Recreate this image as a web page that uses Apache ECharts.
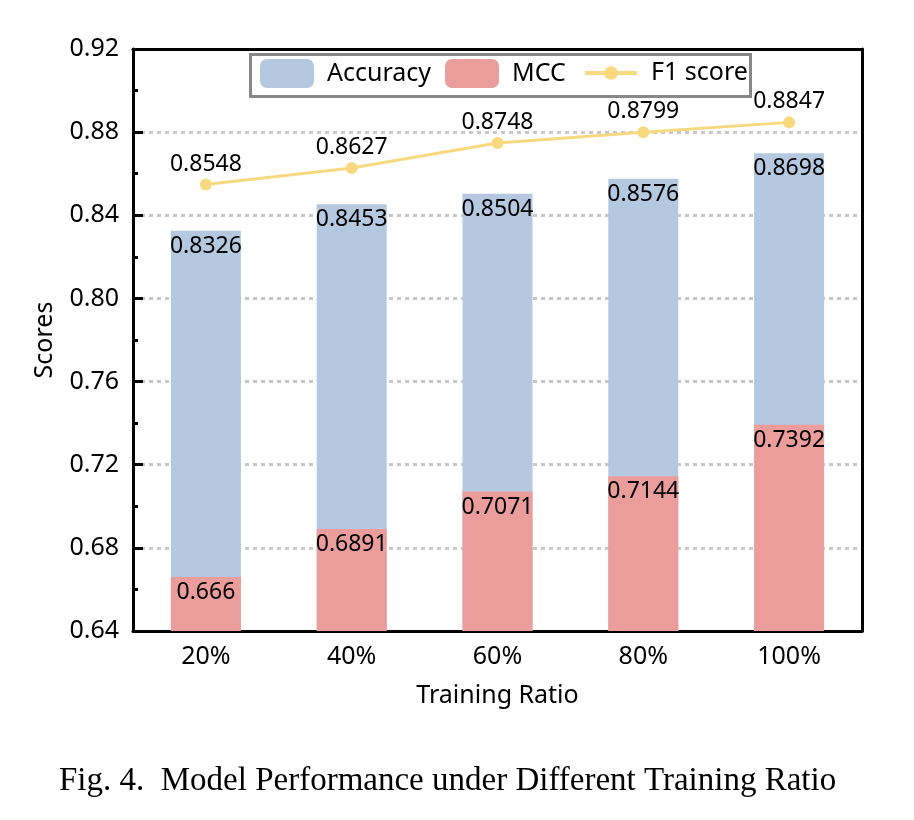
<!DOCTYPE html>
<html><head><meta charset="utf-8">
<script src="https://cdn.jsdelivr.net/npm/echarts@6/dist/echarts.min.js"></script>
<style>html,body{margin:0;padding:0;background:#fff}#c{width:914px;height:820px}</style>
</head><body><div id="c"></div>
<script>
const categories = ['20%', '40%', '60%', '80%', '100%'];
const accuracy = [0.8326, 0.8453, 0.8504, 0.8576, 0.8698];
const mcc = [0.666, 0.6891, 0.7071, 0.7144, 0.7392];
const f1 = [0.8548, 0.8627, 0.8748, 0.8799, 0.8847];
const yTicks = { min: 0.64, max: 0.92, interval: 0.04 };

const FONT = '"Noto Sans", "Open Sans", sans-serif';
const chart = echarts.init(document.getElementById('c'), null, { renderer: 'canvas' });
chart.setOption({
  backgroundColor: '#fff',
  animation: false,
  textStyle: { fontFamily: FONT },
  title: {
    text: 'Fig. 4.  Model Performance under Different Training Ratio',
    left: 54, top: 760,
    textStyle: { fontFamily: '"Liberation Serif", "DejaVu Serif", serif', fontSize: 33, fontWeight: 'normal', color: '#000' }
  },
  graphic: [{
    type: 'rect', left: 249, top: 53, z: 5,
    shape: { width: 500, height: 42 },
    style: { fill: '#fff', stroke: '#888', lineWidth: 3 }
  }],
  grid: { left: 133, right: 52, top: 49, bottom: 189, show: false },
  legend: [
    {
      left: 260, top: 59, z: 6,
      itemWidth: 54, itemHeight: 29, itemGap: 14,
      padding: 0,
      textStyle: { fontSize: 25, color: '#000', fontFamily: FONT, padding: [0, 0, 0, 8] },
      data: ['Accuracy', 'MCC']
    },
    {
      left: 583, top: 60, z: 6,
      itemWidth: 52, itemHeight: 17,
      padding: 0,
      lineStyle: { width: 4 },
      textStyle: { fontSize: 25, color: '#000', fontFamily: FONT, padding: [0, 0, 0, 9], lineHeight: 26 },
      data: ['F1 score']
    }
  ],
  xAxis: [{
    type: 'category', data: categories,
    name: 'Training Ratio', nameLocation: 'middle', nameGap: 52,
    nameTextStyle: { fontSize: 25, color: '#000', fontFamily: FONT },
    axisLine: { lineStyle: { color: '#000', width: 3 } },
    axisTick: { inside: true, alignWithLabel: true, length: 10, lineStyle: { width: 3, color: '#000' } },
    axisLabel: { fontSize: 25, color: '#000', margin: 13, fontFamily: FONT }
  }, {
    type: 'category', data: categories, position: 'top',
    axisLine: { show: true, lineStyle: { color: '#000', width: 3 } },
    axisTick: { show: false }, axisLabel: { show: false }, splitLine: { show: false }
  }],
  yAxis: [{
    type: 'value', min: yTicks.min, max: yTicks.max, interval: yTicks.interval,
    name: 'Scores', nameLocation: 'middle', nameGap: 76,
    nameTextStyle: { fontSize: 25, color: '#000', fontFamily: FONT },
    axisLine: { show: true, lineStyle: { color: '#000', width: 3 } },
    axisTick: { show: true, inside: true, length: 10, lineStyle: { width: 3, color: '#000' } },
    minorTick: { show: true, splitNumber: 2, length: 5, lineStyle: { width: 3, color: '#000' } },
    axisLabel: { fontSize: 25, color: '#000', margin: 14, fontFamily: FONT, formatter: v => v.toFixed(2) },
    splitLine: { show: true, lineStyle: { color: '#c8c8c8', type: [4, 4], width: 3 } }
  }, {
    type: 'value', min: yTicks.min, max: yTicks.max, interval: yTicks.interval, position: 'right',
    axisLine: { show: true, lineStyle: { color: '#000', width: 3 } },
    axisTick: { show: false }, axisLabel: { show: false }, splitLine: { show: false }
  }],
  series: [
    {
      name: 'Accuracy', type: 'bar', data: accuracy, barWidth: 70, barGap: '-100%',
      itemStyle: { color: '#b4c8e0' },
      label: { show: true, position: 'insideTop', distance: 4, fontSize: 23, color: '#000', fontFamily: FONT }
    },
    {
      name: 'MCC', type: 'bar', data: mcc, barWidth: 70, barGap: '-100%',
      itemStyle: { color: '#eb9d9c' },
      label: { show: true, position: 'insideTop', distance: 4, fontSize: 23, color: '#000', fontFamily: FONT }
    },
    {
      name: 'F1 score', type: 'line', data: f1,
      symbol: 'circle', symbolSize: 12,
      lineStyle: { color: '#f9d97f', width: 3 },
      itemStyle: { color: '#f9d97f' },
      label: { show: true, position: 'top', distance: 3, fontSize: 23, color: '#000', fontFamily: FONT }
    }
  ]
});
</script></body></html>
